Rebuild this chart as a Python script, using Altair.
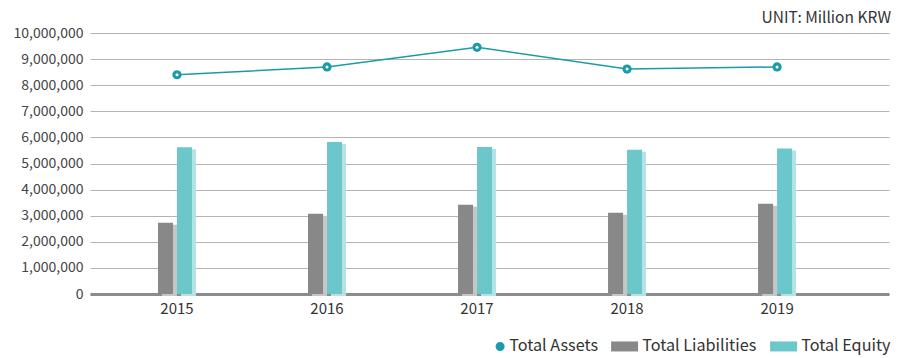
import altair as alt
import pandas as pd

years = ["2015", "2016", "2017", "2018", "2019"]
total_assets = [8_400_000, 8_700_000, 9_450_000, 8_620_000, 8_700_000]
total_liabilities = [2_730_000, 3_070_000, 3_420_000, 3_110_000, 3_460_000]
total_equity = [5_620_000, 5_820_000, 5_630_000, 5_530_000, 5_570_000]

series = ["Total Assets", "Total Liabilities", "Total Equity"]
series_colors = ["#1a9ba8", "#888888", "#6cc7cb"]
shadow_colors = {"Total Liabilities": "#c6c6c6", "Total Equity": "#b5e3e5"}
# legend symbols (units of 5px): wide rectangles for bars, circle for the line
rect_path = "M-1,-1H4.4V1H-1Z"
circle_path = "M4.3,0A0.9,0.9 0 1,1 2.5,0A0.9,0.9 0 1,1 4.3,0Z"
series_shapes = [circle_path, rect_path, rect_path]
y_ticks = list(range(0, 10_000_001, 1_000_000))

FONT = "Noto Sans CJK KR"

df_l = pd.DataFrame({"year": years, "value": total_liabilities, "series": "Total Liabilities"})
df_e = pd.DataFrame({"year": years, "value": total_equity, "series": "Total Equity"})
df_a = pd.DataFrame({"year": years, "value": total_assets, "series": "Total Assets"})
df_legend = pd.DataFrame({"year": [years[0]] * 3, "value": [0] * 3, "series": series})

x = alt.X("year:N", title=None,
          scale=alt.Scale(paddingInner=0, paddingOuter=0.163, align=0.245),
          axis=alt.Axis(labelAngle=0, labelFontSize=15, labelColor="#333333", labelFont=FONT,
                        ticks=False, labelPadding=7, domainColor="#8c8c8c", domainWidth=3,
                        grid=False))
y = alt.Y("value:Q", title=None,
          scale=alt.Scale(domain=[0, 10_000_000], nice=False),
          axis=alt.Axis(values=y_ticks, format=",.0f", labelFontSize=14, labelColor="#444444",
                        labelFont=FONT, ticks=False, domain=False, labelPadding=7,
                        gridColor="#b4b4b4", gridWidth=1))

legend_kw = dict(orient="none", legendX=385, legendY=305, direction="horizontal", title=None,
                 labelFontSize=16.2, labelColor="#333333", labelFont=FONT, symbolSize=100,
                 labelOffset=18, columnPadding=10, symbolStrokeWidth=0, symbolOpacity=1)

color = alt.Color("series:N", scale=alt.Scale(domain=series, range=series_colors),
                  legend=alt.Legend(**legend_kw))
shape = alt.Shape("series:N", scale=alt.Scale(domain=series, range=series_shapes),
                  legend=alt.Legend(**legend_kw))

liab_shadow = alt.Chart(df_l).mark_bar(size=15, xOffset=-7.5, yOffset=2,
                                       color=shadow_colors["Total Liabilities"]).encode(x=x, y=y)
liab = alt.Chart(df_l).mark_bar(size=15, xOffset=-11.5).encode(x=x, y=y, color=color)
eq_shadow = alt.Chart(df_e).mark_bar(size=15, xOffset=11.5, yOffset=2,
                                     color=shadow_colors["Total Equity"]).encode(x=x, y=y)
eq = alt.Chart(df_e).mark_bar(size=15, xOffset=7.5).encode(x=x, y=y, color=color)
line = alt.Chart(df_a).mark_line(strokeWidth=1.5, color=series_colors[0]).encode(x=x, y=y)
pts = alt.Chart(df_a).mark_point(filled=True, size=85, opacity=1, shape="circle").encode(
    x=x, y=y, color=color)
pts_c = alt.Chart(df_a).mark_point(filled=True, size=9, opacity=1, color="white").encode(x=x, y=y)
legend_layer = alt.Chart(df_legend).mark_point(filled=True, opacity=0, size=0).encode(
    x=x, y=y, color=color, shape=shape)

chart = alt.layer(liab_shadow, liab, eq_shadow, eq, line, pts, pts_c, legend_layer).properties(
    width=799, height=261,
    padding={"left": 5, "top": 2, "right": 5, "bottom": 0},
    title=alt.Title("UNIT: Million KRW", anchor="end", fontSize=15.5, fontWeight="normal",
                    color="#333333", font=FONT, offset=0),
).configure_view(stroke=None)

chart.save("out.html", embed_options={"renderer": "svg", "actions": False})
